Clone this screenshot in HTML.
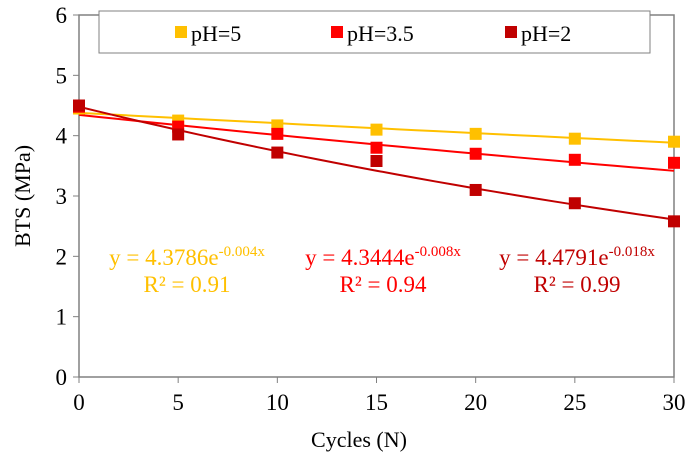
<!DOCTYPE html>
<html><head><meta charset="utf-8"><style>
body{margin:0;background:#fff}
svg{display:block;font-family:"Liberation Serif",serif}
</style></head><body>
<svg id="chart" width="685" height="458" viewBox="0 0 685 458" xmlns="http://www.w3.org/2000/svg">
<rect x="0" y="0" width="685" height="458" fill="#fff"/>
<g id="axes"></g>
<g id="trends"></g>
<g id="marks"></g>
<g>
<rect x="99" y="11" width="551" height="42" fill="#fff" stroke="#808080" stroke-width="1"/>
<g><rect x="175" y="26" width="12" height="12" fill="#FFC000"/><text x="191" y="41" font-size="22">pH=5</text></g>
<g><rect x="331" y="26" width="12" height="12" fill="#FF0000"/><text x="347" y="41" font-size="22">pH=3.5</text></g>
<g><rect x="505" y="26" width="12" height="12" fill="#C00000"/><text x="521" y="41" font-size="22">pH=2</text></g>
</g>
<g fill="#FFC000" font-size="23">
<text x="187" y="265" text-anchor="middle">y = 4.3786e<tspan font-size="15" dy="-9">-0.004x</tspan></text>
<text x="187" y="292" text-anchor="middle">R² = 0.91</text></g>
<g fill="#FF0000" font-size="23">
<text x="383" y="265" text-anchor="middle">y = 4.3444e<tspan font-size="15" dy="-9">-0.008x</tspan></text>
<text x="383" y="292" text-anchor="middle">R² = 0.94</text></g>
<g fill="#C00000" font-size="23">
<text x="577" y="265" text-anchor="middle">y = 4.4791e<tspan font-size="15" dy="-9">-0.018x</tspan></text>
<text x="577" y="292" text-anchor="middle">R² = 0.99</text></g>
<text x="359" y="447" font-size="22" text-anchor="middle">Cycles (N)</text>
<text transform="translate(30,196) rotate(-90)" font-size="22" text-anchor="middle">BTS (MPa)</text>
</svg>
<script>
const cycles=[0,5,10,15,20,25,30];
const ph5=[4.45,4.25,4.17,4.1,4.03,3.95,3.9];
const ph35=[4.48,4.15,4.03,3.8,3.7,3.6,3.55];
const ph2=[4.5,4.02,3.72,3.58,3.1,2.88,2.58];
const xTicks=[0,5,10,15,20,25,30];
const yTicks=[0,1,2,3,4,5,6];
const fitA=[4.3786,4.3444,4.4791];
const fitB=[-0.004,-0.008,-0.018];
const colors=["#FFC000","#FF0000","#C00000"];
const names=["ph5","ph35","ph2"];
const NS="http://www.w3.org/2000/svg";
const X0=79,X1=674,Y0=377,Y1=15;
const sx=v=>X0+(v-0)/(30-0)*(X1-X0);
const sy=v=>Y0-(v-0)/(6-0)*(Y0-Y1);
function mk(t,a,p){const e=document.createElementNS(NS,t);for(const k in a)e.setAttribute(k,a[k]);p.appendChild(e);return e;}
const axes=document.getElementById('axes');
let fr=mk('rect',{x:X0,y:Y1,width:X1-X0,height:Y0-Y1,fill:'none',stroke:'#808080','stroke-width':1.5},axes);


yTicks.forEach(v=>{
 let l=mk('line',{x1:X0-6,x2:X0,y1:sy(v),y2:sy(v),stroke:'#808080','stroke-width':1},axes);
 
 
 let t=mk('text',{x:X0-12,y:sy(v)+8,'font-size':23,'text-anchor':'end'},axes);t.textContent=v;
 
 
});
xTicks.forEach(v=>{
 let l=mk('line',{x1:sx(v),x2:sx(v),y1:Y0,y2:Y0+6,stroke:'#808080','stroke-width':1},axes);
 
 
 let t=mk('text',{x:sx(v),y:Y0+33,'font-size':23,'text-anchor':'middle'},axes);t.textContent=v;
 
 
});
const trends=document.getElementById('trends');
fitA.forEach((a,i)=>{
 let pts=[];for(let x=0;x<=30;x+=1)pts.push(sx(x)+','+sy(a*Math.exp(fitB[i]*x)));
 let p=mk('polyline',{points:pts.join(' '),fill:'none',stroke:colors[i],'stroke-width':2},trends);
 
 
});
const marks=document.getElementById('marks');
[ph5,ph35,ph2].forEach((s,i)=>{
 s.forEach((v,j)=>{
  let r=mk('rect',{x:sx(cycles[j])-6,y:sy(v)-6,width:12,height:12,fill:colors[i]},marks);
  
  
 });
});
</script>
</body></html>
